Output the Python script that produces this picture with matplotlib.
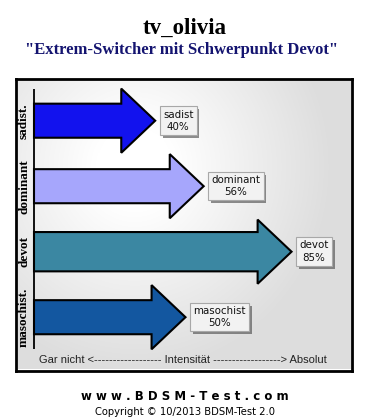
import numpy as np
import matplotlib
matplotlib.use('Agg')
import matplotlib.pyplot as plt
from matplotlib.patches import FancyArrow
import matplotlib.patheffects as pe

# Daten
kategorien = ['sadist.', 'dominant', 'devot', 'masochist.']
labels = ['sadist', 'dominant', 'devot', 'masochist']
werte = [40, 56, 85, 50]
farben = ['#1212ee', '#a6a6fc', '#3b87a2', '#1357a0']

fig = plt.figure(figsize=(3.7, 4.2), dpi=100)
W, H = 370, 420

# Plotbereich in Pixeln: x 16..352, y 79..371
ax = fig.add_axes([16 / W, (H - 371) / H, (352 - 16) / W, (371 - 79) / H])
px = 3.03  # Pixel pro Prozent
x0 = -(34 - 16) / px
x1 = (352 - 34) / px
band = 65.5
y_top = (79 - 120.7) / band
y_bot = (371 - 120.7) / band
ax.set_xlim(x0, x1)
ax.set_ylim(y_bot, y_top)

# Hintergrund-Verlauf
gx, gy = np.meshgrid(np.linspace(0, 1, 300), np.linspace(0, 1, 300))
d = np.sqrt(((gx - 0.35) / 0.75) ** 2 + ((gy - 0.3) / 0.9) ** 2)
g = 1 - 0.13 * np.clip(d * 1.6 - 0.25, 0, 1)
bg = np.dstack([g, g, g])
ax.imshow(bg, extent=(x0 + 0.6, x1 - 0.6, y_bot - 0.03, y_top + 0.03),
          aspect='auto', zorder=0, interpolation='bilinear')

for s in ax.spines.values():
    s.set_linewidth(2.0)
    s.set_color('black')
ax.set_xticks([])
ax.set_yticks([])

# Achsenlinie
ax.vlines(0, -0.49, 3.49, color='black', lw=1.3, zorder=2)

for i, (v, c, k, l) in enumerate(zip(werte, farben, kategorien, labels)):
    breite = 0.6 if v == max(werte) else 0.52
    pfeil = FancyArrow(0, i, v, 0, width=breite, head_width=0.98, head_length=11.2,
                       length_includes_head=True, facecolor=c, edgecolor='black',
                       lw=1.5, zorder=3)
    ax.add_patch(pfeil)
    t = ax.text(v + 2.6, i, f'{l}\n{v}%', ha='left', va='center', multialignment='center',
                fontsize=7.4, family='DejaVu Sans', color='#111111', linespacing=1.3,
                zorder=5,
                bbox=dict(boxstyle='square,pad=0.3', facecolor='#f2f2f2',
                          edgecolor='#a8a8a8', lw=0.8))
    t.get_bbox_patch().set_path_effects([
        pe.SimplePatchShadow(offset=(2, -2), shadow_rgbFace='#444444', alpha=0.6),
        pe.Normal()])
    ax.text(-3.3, i, k, rotation=90, ha='center', va='center', fontsize=9.5,
            fontweight='bold', family='Liberation Serif', zorder=4)

ax.text(1.5, 3.65, 'Gar nicht <------------------ Intensität ------------------> Absolut',
        ha='left', va='center', fontsize=8, family='Liberation Sans', color='#222222')

# Titel
fig.text(185 / W, 1 - 28 / H, 'tv_olivia', ha='center', va='center',
         fontsize=16.5, fontweight='bold', family='Liberation Serif')
fig.text(182 / W, 1 - 50 / H, '"Extrem-Switcher mit Schwerpunkt Devot"', ha='center',
         va='center', fontsize=12, fontweight='bold', family='Liberation Serif',
         color='#141470')

# Fusszeile
fig.text(185 / W, 1 - 397 / H, 'w w w . B D S M - T e s t . c o m', ha='center',
         va='center', fontsize=8.5, fontweight='bold', family='DejaVu Sans')
fig.text(185 / W, 1 - 412 / H, 'Copyright © 10/2013 BDSM-Test 2.0', ha='center',
         va='center', fontsize=7.2, family='DejaVu Sans')

fig.savefig('out.png', dpi=100)
